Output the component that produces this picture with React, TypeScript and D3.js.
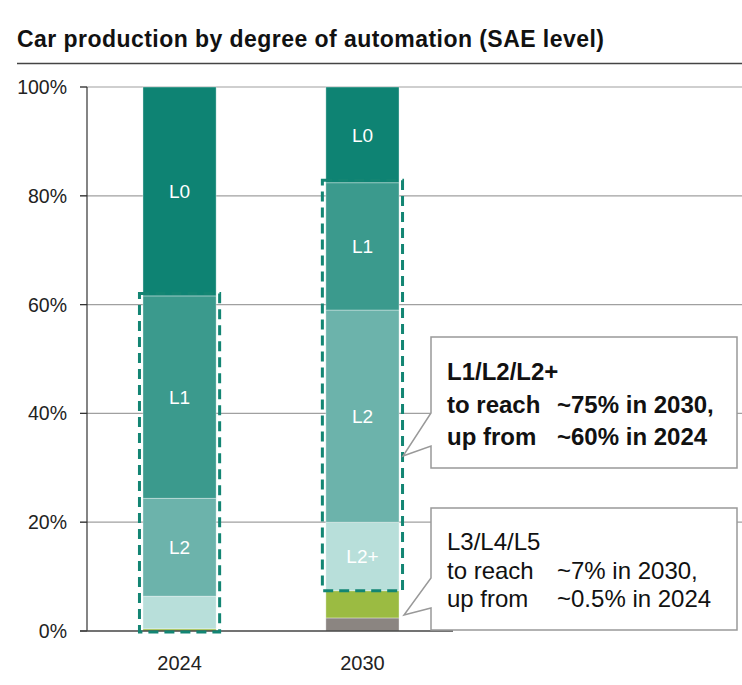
import { useEffect, useRef } from "react";
import * as d3 from "d3";

const years = ["2024", "2030"];
const levels = ["L4/L5", "L3", "L2+", "L2", "L1", "L0"];
const shares2024 = [0.0, 0.4, 6.0, 18.0, 37.2, 38.4];
const shares2030 = [2.4, 5.0, 12.6, 39.0, 23.4, 17.6];
const colors = ["#8b8581", "#9bbb42", "#b8dfda", "#6cb3ab", "#3b9a8d", "#0e8373"];
const labels2024 = ["", "", "", "L2", "L1", "L0"];
const labels2030 = ["", "", "L2+", "L2", "L1", "L0"];
const yTicks = [0, 20, 40, 60, 80, 100];
// which levels sit inside the dashed boxes
const boxedLevels = ["L2+", "L2", "L1"];

const font = "Liberation Sans, Arial, sans-serif";

export default function App() {
    const svgRef = useRef<SVGSVGElement>(null);

    useEffect(() => {
        const svg = d3.select(svgRef.current);
        svg.selectAll("*").remove();

        const rows = years.map((y, i) => {
            const vals = i === 0 ? shares2024 : shares2030;
            const r: any = { year: y };
            levels.forEach((l, j) => (r[l] = vals[j]));
            return r;
        });
        const series = d3.stack().keys(levels)(rows);

        const x = d3.scaleBand().domain(years).range([87, 455]).paddingInner(0.6).paddingOuter(0.306);
        const y = d3.scaleLinear().domain([0, 100]).range([631, 87]);

        // title
        svg.append("text")
            .attr("x", 17).attr("y", 47)
            .attr("font-family", font).attr("font-weight", "bold").attr("font-size", 23)
            .attr("letter-spacing", 0.45)
            .attr("fill", "#111")
            .text("Car production by degree of automation (SAE level)");
        svg.append("line")
            .attr("x1", 17).attr("x2", 742).attr("y1", 63.5).attr("y2", 63.5)
            .attr("stroke", "#444").attr("stroke-width", 1.5);

        // gridlines
        svg.append("g").selectAll("line")
            .data(yTicks.filter(t => t > 0))
            .join("line")
            .attr("x1", 80).attr("x2", 742)
            .attr("y1", d => y(d)).attr("y2", d => y(d))
            .attr("stroke", "#a0a0a0").attr("stroke-width", 1.2);

        svg.append("g").selectAll("text")
            .data(yTicks)
            .join("text")
            .attr("x", 67).attr("y", d => y(d) + 7)
            .attr("text-anchor", "end")
            .attr("font-family", font).attr("font-size", 19.5).attr("fill", "#222")
            .text(d => d + "%");

        // bars
        series.forEach((s, j) => {
            svg.append("g").selectAll("rect")
                .data(s)
                .join("rect")
                .attr("x", (d: any) => x(d.data.year)!)
                .attr("width", x.bandwidth())
                .attr("y", d => y(d[1]))
                .attr("height", d => y(d[0]) - y(d[1]))
                .attr("fill", colors[j])
                .attr("stroke", "#fff").attr("stroke-opacity", 0.45).attr("stroke-width", 0.8);
            svg.append("g").selectAll("text")
                .data(s)
                .join("text")
                .attr("x", (d: any) => x(d.data.year)! + x.bandwidth() / 2)
                .attr("y", d => (y(d[0]) + y(d[1])) / 2 + 7)
                .attr("text-anchor", "middle")
                .attr("font-family", font).attr("font-size", 19).attr("fill", "#fff")
                .text((d: any, i) => (i === 0 ? labels2024 : labels2030)[j]);
        });

        // y axis + baseline
        svg.append("line")
            .attr("x1", 87).attr("x2", 87).attr("y1", y(100)).attr("y2", y(0))
            .attr("stroke", "#333").attr("stroke-width", 1.2);
        svg.append("g").selectAll("line")
            .data(yTicks)
            .join("line")
            .attr("x1", 80).attr("x2", 87)
            .attr("y1", d => y(d)).attr("y2", d => y(d))
            .attr("stroke", "#333").attr("stroke-width", 1.2);
        svg.append("line")
            .attr("x1", 80).attr("x2", 453).attr("y1", y(0)).attr("y2", y(0))
            .attr("stroke", "#444").attr("stroke-width", 1.5);

        // dashed boxes
        const lo = series.find(s => s.key === boxedLevels[0])!;
        const hi = series.find(s => s.key === boxedLevels[boxedLevels.length - 1])!;
        years.forEach((yr, i) => {
            const bottom = i === 0 ? y(0) + 1 : y(lo[i][0]);
            svg.append("rect")
                .attr("x", x(yr)! - 3.5)
                .attr("width", x.bandwidth() + 7)
                .attr("y", y(hi[i][1]) - 2.5)
                .attr("height", bottom - y(hi[i][1]) + 2.5)
                .attr("fill", "none")
                .attr("stroke", "#138573").attr("stroke-width", 3)
                .attr("stroke-dasharray", "10 6");
        });

        // x labels
        svg.append("g").selectAll("text")
            .data(years)
            .join("text")
            .attr("x", d => x(d)! + x.bandwidth() / 2)
            .attr("y", 670)
            .attr("text-anchor", "middle")
            .attr("font-family", font).attr("font-size", 20).attr("fill", "#222")
            .text(d => d);

        // callouts
        const callout = (top: number, bottom: number, p1: number, tip: [number, number], p2: number,
            lines: [string, string][], firstY: number, step: number, bold: boolean) => {
            const g = svg.append("g");
            const path = d3.path();
            path.moveTo(431, top);
            path.lineTo(737, top);
            path.lineTo(737, bottom);
            path.lineTo(431, bottom);
            path.lineTo(431, p2);
            path.lineTo(tip[0], tip[1]);
            path.lineTo(431, p1);
            path.closePath();
            g.append("path").attr("d", path.toString())
                .attr("fill", "#fff").attr("stroke", "#999").attr("stroke-width", 1.5);
            lines.forEach((ln, k) => {
                const t = g.append("text")
                    .attr("y", firstY + k * step)
                    .attr("font-family", font).attr("font-size", 24)
                    .attr("font-weight", bold ? "bold" : "normal").attr("fill", "#111");
                t.append("tspan").attr("x", 447).text(ln[0]);
                if (ln[1]) t.append("tspan").attr("x", 557).text(ln[1]);
            });
        };
        callout(337, 468, 413, [403, 456], 446,
            [["L1/L2/L2+", ""], ["to reach", "~75% in 2030,"], ["up from", "~60% in 2024"]], 380, 32.5, true);
        callout(508, 630, 578, [404, 615], 608,
            [["L3/L4/L5", ""], ["to reach", "~7% in 2030,"], ["up from", "~0.5% in 2024"]], 550, 28.5, false);
    }, []);

    return (
        <svg ref={svgRef} width={742} height={685}
            style={{ position: "absolute", left: 0, top: 0, background: "#fff" }} />
    );
}
